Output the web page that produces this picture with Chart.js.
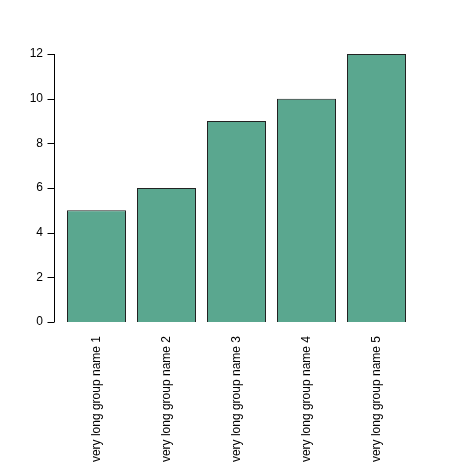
<!DOCTYPE html>
<html><head><script src="https://cdn.jsdelivr.net/npm/chart.js@4"></script>
<style>body{margin:0;background:#fff}#w{width:474px;height:474px}</style></head>
<body><div id="w"><canvas id="c"></canvas></div>
<script>
const categories=["very long group name 1","very long group name 2","very long group name 3","very long group name 4","very long group name 5"];
const values=[5,6,9,10,12];
const yTicks=[0,2,4,6,8,10,12];
const axes={id:'axes',afterDraw(ch){
 const c=ch.ctx,y=ch.scales.y,x=ch.scales.x;
 c.save();c.strokeStyle='#000';c.fillStyle='#000';c.lineWidth=1;
 c.font='12px "Liberation Sans", Arial, sans-serif';
 const ax=54.5;
 c.beginPath();c.moveTo(ax,y.getPixelForValue(0));c.lineTo(ax,y.getPixelForValue(12));
 yTicks.forEach(t=>{const p=Math.round(y.getPixelForValue(t))+0.5;c.moveTo(ax,p);c.lineTo(ax-7,p);});
 c.stroke();
 c.textAlign='right';c.textBaseline='middle';
 yTicks.forEach(t=>c.fillText(String(t),43,y.getPixelForValue(t)));
 categories.forEach((n,i)=>{const p=x.getPixelForValue(i);c.save();c.translate(p,336);c.rotate(-Math.PI/2);
  c.textAlign='right';c.textBaseline='middle';c.fillText(n,0,0);c.restore();});
 c.restore();}};
new Chart(document.getElementById('c'),{type:'bar',
 data:{labels:categories,datasets:[{data:values,backgroundColor:'#5aa78f',borderColor:'#222',borderWidth:1,barPercentage:59/70,categoryPercentage:1}]},
 options:{responsive:true,maintainAspectRatio:false,animation:false,
  layout:{padding:{left:61.5,right:62.5,top:54,bottom:152}},
  plugins:{legend:{display:false},tooltip:{enabled:false}},
  scales:{x:{display:false},y:{display:false,min:0,max:12}}},
 plugins:[axes]});
</script></body></html>
